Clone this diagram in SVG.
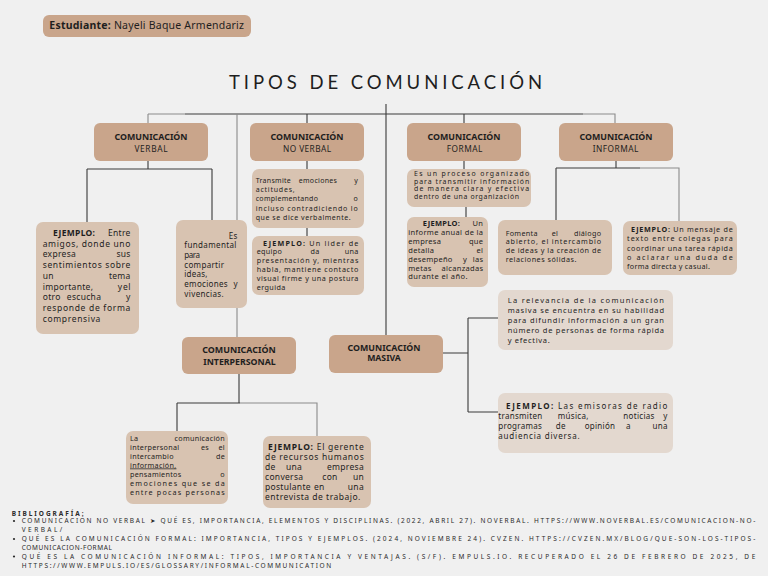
<svg xmlns="http://www.w3.org/2000/svg" width="768" height="576" viewBox="0 0 768 576">
<style>
.bg{fill:#f0f0f0}
.hdr{fill:#c9a58b}
.box{fill:#d8c3b1}
.box2{fill:#e3d8cf}
.t{font-family:'Noto Sans','DejaVu Sans',sans-serif;fill:#1e1e1e;letter-spacing:0.3px}
.b{font-weight:700}
.h{font-family:'Noto Sans','DejaVu Sans',sans-serif;fill:#1e1e1e;font-size:8.3px;text-anchor:middle}
.ln{stroke:#3a3a3a;stroke-width:1.1;fill:none}
.lg{stroke:#8a8a8a;stroke-width:1.1;fill:none}
.f85{font-size:8.5px}
.f8{font-size:8px}
.f75{font-size:7.5px}
.f72{font-size:7.2px}
.f7{font-size:7px}
.f69{font-size:6.9px}
.e{text-anchor:end}
.m{text-anchor:middle}
.bib{font-family:'Noto Sans','DejaVu Sans',sans-serif;fill:#2a2a2a;font-size:6.5px;letter-spacing:1.4px}
</style>
<rect class="bg" x="0" y="0" width="768" height="576"/>

<g id="connectors">
<path class="ln" d="M185,114 H583"/>
<path class="lg" d="M148,114 H185 M583,114 H615 V123"/>
<path class="ln" d="M386,104 V335"/>
<path class="lg" d="M148,114 V123"/>
<path class="ln" d="M307,114 V123 M464,114 V123"/>
<path class="lg" d="M237,114 V337"/>
<path class="ln" d="M148,161 V169 M87,169 H212 M87,169 V222 M212,169 V220"/>
<path class="ln" d="M307,161 V169 M307,228 V236"/>
<path class="ln" d="M464,161 V169 M466,207 V217"/>
<path class="ln" d="M616,161 V168 M556,168 H640 M556,168 V220"/>
<path class="lg" d="M640,168 H679 V222"/>
<path class="ln" d="M239,374 V403 M177,403 H240 M177,403 V431"/>
<path class="lg" d="M240,403 H317 V436"/>
<path class="ln" d="M443,353 H468 M468,318 V412 M468,318 H498 M468,412 H498"/>
</g>

<g id="student">
<rect class="hdr" x="43" y="15" width="208" height="22" rx="6"/>
<text class="t" x="49.3" y="28.5" font-size="10.5" textLength="195" lengthAdjust="spacing"><tspan class="b">Estudiante:</tspan> Nayeli Baque Armendariz</text>
</g>

<g id="title">
<text x="229" y="88.5" font-family="Lato,'Noto Sans',sans-serif" font-size="18.5" fill="#1e1e1e" textLength="313" lengthAdjust="spacing">TIPOS DE COMUNICACIÓN</text>
</g>

<g id="verbal">
<rect class="hdr" x="94" y="123" width="114" height="38" rx="6"/>
<text class="h b" x="151" y="140" textLength="73" lengthAdjust="spacingAndGlyphs">COMUNICACIÓN</text>
<text class="h" x="151" y="152" textLength="33" lengthAdjust="spacing">VERBAL</text>
</g>

<g id="no-verbal">
<rect class="hdr" x="250" y="123" width="114" height="38" rx="6"/>
<text class="h b" x="307" y="140" textLength="73" lengthAdjust="spacingAndGlyphs">COMUNICACIÓN</text>
<text class="h" x="307" y="152" textLength="48" lengthAdjust="spacing">NO VERBAL</text>
</g>

<g id="formal">
<rect class="hdr" x="407" y="123" width="114" height="38" rx="6"/>
<text class="h b" x="464" y="140" textLength="73" lengthAdjust="spacingAndGlyphs">COMUNICACIÓN</text>
<text class="h" x="464.5" y="152" textLength="35.6" lengthAdjust="spacing">FORMAL</text>
</g>

<g id="informal">
<rect class="hdr" x="559" y="123" width="114" height="38" rx="6"/>
<text class="h b" x="616" y="140" textLength="73" lengthAdjust="spacingAndGlyphs">COMUNICACIÓN</text>
<text class="h" x="615.5" y="152" textLength="45.6" lengthAdjust="spacing">INFORMAL</text>
</g>

<g id="verbal-ejemplo">
<rect class="box" x="36" y="222" width="103" height="112" rx="7"/>
<g class="t f85">
<text x="53" y="236"><tspan class="b">EJEMPLO:</tspan></text><text class="e" x="130.7" y="236">Entre</text>
<text x="42.7" y="246.7" textLength="88" lengthAdjust="spacing">amigos, donde uno</text>
<text x="42.7" y="257.4">expresa</text><text class="e" x="130.7" y="257.4">sus</text>
<text x="42.7" y="268.1" textLength="88" lengthAdjust="spacing">sentimientos sobre</text>
<text x="42.7" y="278.8">un</text><text class="e" x="130.7" y="278.8">tema</text>
<text x="42.7" y="289.5">importante,</text><text class="m" x="120" y="289.5">y</text><text class="e" x="130.7" y="289.5">el</text>
<text x="42.7" y="300.2">otro</text><text class="m" x="84" y="300.2">escucha</text><text class="e" x="130.7" y="300.2">y</text>
<text x="42.7" y="310.9" textLength="88" lengthAdjust="spacing">responde de forma</text>
<text x="42.7" y="321.6" textLength="58" lengthAdjust="spacing">comprensiva</text>
</g>
</g>

<g id="verbal-desc">
<rect class="box" x="176" y="220" width="71" height="88" rx="7"/>
<g class="t f8">
<text class="e" x="237.7" y="238.5">Es</text>
<text x="184.3" y="248.2" textLength="52.4" lengthAdjust="spacing">fundamental</text>
<text x="184.3" y="257.8" textLength="16" lengthAdjust="spacing">para</text>
<text x="184.3" y="267.5" textLength="40" lengthAdjust="spacing">compartir</text>
<text x="184.3" y="277.2" textLength="23.4" lengthAdjust="spacing">ideas,</text>
<text x="184.3" y="286.8">emociones</text><text class="e" x="238" y="286.8">y</text>
<text x="184.3" y="296.5" textLength="39.7" lengthAdjust="spacing">vivencias.</text>
</g>
</g>

<g id="no-verbal-desc">
<rect class="box" x="252" y="169" width="112" height="59" rx="7"/>
<g class="t f7">
<text x="255.7" y="183">Transmite</text><text class="m" x="318" y="183">emociones</text><text class="e" x="358" y="183">y</text>
<text x="255.7" y="192.2" textLength="39.3" lengthAdjust="spacing">actitudes,</text>
<text x="255.7" y="201.4">complementando</text><text class="e" x="358" y="201.4">o</text>
<text x="255.7" y="210.6" textLength="102.3" lengthAdjust="spacing">incluso contradiciendo lo</text>
<text x="255.7" y="219.8" textLength="95.3" lengthAdjust="spacing">que se dice verbalmente.</text>
</g>
</g>

<g id="no-verbal-ejemplo">
<rect class="box" x="252" y="236" width="112" height="59" rx="7"/>
<g class="t f72">
<text x="263" y="245.5" textLength="95.7" lengthAdjust="spacing"><tspan class="b">EJEMPLO:</tspan> Un lider de</text>
<text x="256.7" y="254.4">equipo</text><text class="m" x="315" y="254.4">da</text><text class="e" x="358.7" y="254.4">una</text>
<text x="256.7" y="263.3" textLength="102" lengthAdjust="spacing">presentación y, mientras</text>
<text x="256.7" y="272.2" textLength="102" lengthAdjust="spacing">habla, mantiene contacto</text>
<text x="256.7" y="281.1" textLength="102" lengthAdjust="spacing">visual firme y una postura</text>
<text x="256.7" y="290" textLength="29" lengthAdjust="spacing">erguida</text>
</g>
</g>

<g id="formal-desc">
<rect class="box" x="407" y="169" width="124" height="38" rx="7"/>
<g class="t f69">
<text x="414" y="175.8" textLength="115.5" lengthAdjust="spacing">Es un proceso organizado</text>
<text x="414" y="183.6" textLength="115.5" lengthAdjust="spacing">para transmitir información</text>
<text x="414" y="191.4" textLength="115.5" lengthAdjust="spacing">de manera clara y efectiva</text>
<text x="414" y="199.2" textLength="105.3" lengthAdjust="spacing">dentro de una organización</text>
</g>
</g>

<g id="formal-ejemplo">
<rect class="box" x="407" y="217" width="81" height="70" rx="7"/>
<g class="t f75">
<text class="b" x="422.7" y="226">EJEMPLO:</text><text class="e" x="483.3" y="226">Un</text>
<text x="408.3" y="234.9" textLength="75" lengthAdjust="spacing">informe anual de la</text>
<text x="408.3" y="243.8">empresa</text><text class="e" x="483.3" y="243.8">que</text>
<text x="408.3" y="252.7">detalla</text><text class="e" x="483.3" y="252.7">el</text>
<text x="408.3" y="261.6">desempeño</text><text class="m" x="465" y="261.6">y</text><text class="e" x="483.3" y="261.6">las</text>
<text x="408.3" y="270.5">metas</text><text class="e" x="483.3" y="270.5">alcanzadas</text>
<text x="408.3" y="279.4" textLength="59.4" lengthAdjust="spacing">durante el año.</text>
</g>
</g>

<g id="informal-desc">
<rect class="box" x="498" y="220" width="114" height="55" rx="7"/>
<g class="t f72">
<text x="505.7" y="235.5">Fomenta</text><text class="m" x="555" y="235.5">el</text><text class="e" x="601.3" y="235.5">diálogo</text>
<text x="505.7" y="244.4" textLength="95.6" lengthAdjust="spacing">abierto, el intercambio</text>
<text x="505.7" y="253.3" textLength="95.6" lengthAdjust="spacing">de ideas y la creación de</text>
<text x="505.7" y="262.2" textLength="71" lengthAdjust="spacing">relaciones sólidas.</text>
</g>
</g>

<g id="informal-ejemplo">
<rect class="box" x="623" y="221" width="114" height="54" rx="7"/>
<g class="t f72">
<text x="631" y="232" textLength="102" lengthAdjust="spacing"><tspan class="b">EJEMPLO:</tspan> Un mensaje de</text>
<text x="627" y="241.3" textLength="106" lengthAdjust="spacing">texto entre colegas para</text>
<text x="627" y="250.6" textLength="106" lengthAdjust="spacing">coordinar una tarea rápida</text>
<text x="627" y="259.9" textLength="106" lengthAdjust="spacing">o aclarar una duda de</text>
<text x="627" y="269.2">forma directa y casual.</text>
</g>
</g>

<g id="interpersonal">
<rect class="hdr" x="182" y="337" width="114" height="37" rx="6"/>
<text class="h b" x="239" y="353.3" textLength="73.5" lengthAdjust="spacingAndGlyphs">COMUNICACIÓN</text>
<text class="h b" x="239.5" y="364.7" textLength="72.5" lengthAdjust="spacingAndGlyphs">INTERPERSONAL</text>
</g>

<g id="masiva">
<rect class="hdr" x="329" y="335" width="114" height="38" rx="6"/>
<text class="h b" x="384" y="350.7" textLength="73" lengthAdjust="spacingAndGlyphs">COMUNICACIÓN</text>
<text class="h b" x="384" y="361.3" textLength="33.7" lengthAdjust="spacingAndGlyphs">MASIVA</text>
</g>

<g id="interpersonal-desc">
<rect class="box" x="126" y="431" width="102" height="73" rx="7"/>
<g class="t f72">
<text x="130" y="440.5">La</text><text class="e" x="225" y="440.5">comunicación</text>
<text x="130" y="449.5">interpersonal</text><text class="m" x="205" y="449.5">es</text><text class="e" x="225" y="449.5">el</text>
<text x="130" y="458.5">intercambio</text><text class="e" x="225" y="458.5">de</text>
<text x="130" y="467.5" text-decoration="underline">información,</text>
<text x="130" y="476.5">pensamientos</text><text class="e" x="225" y="476.5">o</text>
<text x="130" y="485.5" textLength="95" lengthAdjust="spacing">emociones que se da</text>
<text x="130" y="494.5" textLength="95" lengthAdjust="spacing">entre pocas personas</text>
</g>
</g>

<g id="interpersonal-ejemplo">
<rect class="box" x="263" y="436" width="108" height="72" rx="7"/>
<g class="t f85">
<text x="268" y="449.6" textLength="96" lengthAdjust="spacing"><tspan class="b">EJEMPLO:</tspan> El gerente</text>
<text x="265" y="459.6" textLength="99" lengthAdjust="spacing">de recursos humanos</text>
<text x="265" y="469.6">de</text><text class="m" x="294" y="469.6">una</text><text class="e" x="364" y="469.6">empresa</text>
<text x="265" y="479.6">conversa</text><text class="m" x="330" y="479.6">con</text><text class="e" x="364" y="479.6">un</text>
<text x="265" y="489.6">postulante</text><text class="m" x="319.3" y="489.6">en</text><text class="e" x="364" y="489.6">una</text>
<text x="265" y="499.6" textLength="95.7" lengthAdjust="spacing">entrevista de trabajo.</text>
</g>
</g>

<g id="masiva-desc">
<rect class="box2" x="498" y="290" width="175" height="60" rx="7"/>
<g class="t f75">
<text x="507.7" y="303" textLength="156.6" lengthAdjust="spacing">La relevancia de la comunicación</text>
<text x="507.7" y="313" textLength="156.6" lengthAdjust="spacing">masiva se encuentra en su habilidad</text>
<text x="507.7" y="323" textLength="156.6" lengthAdjust="spacing">para difundir información a un gran</text>
<text x="507.7" y="333" textLength="156.6" lengthAdjust="spacing">número de personas de forma rápida</text>
<text x="507.7" y="343" textLength="42.3" lengthAdjust="spacing">y efectiva.</text>
</g>
</g>

<g id="masiva-ejemplo">
<rect class="box2" x="498" y="393" width="175" height="60" rx="7"/>
<g class="t f8">
<text x="506" y="408.5" textLength="161.7" lengthAdjust="spacing"><tspan class="b">EJEMPLO:</tspan> Las emisoras de radio</text>
<text x="498.3" y="418.5">transmiten</text><text class="m" x="573.3" y="418.5">música,</text><text class="m" x="639" y="418.5">noticias</text><text class="e" x="667.7" y="418.5">y</text>
<text x="498.3" y="428.5">programas</text><text class="m" x="560.7" y="428.5">de</text><text class="m" x="600" y="428.5">opinión</text><text class="m" x="628.3" y="428.5">a</text><text class="e" x="667.7" y="428.5">una</text>
<text x="498.3" y="438.5" textLength="81.7" lengthAdjust="spacing">audiencia diversa.</text>
</g>
</g>

<g id="bibliografia">
<text class="bib b" x="11.7" y="515.5" font-size="7" textLength="73.3" lengthAdjust="spacing">BIBLIOGRAFÍA:</text>
<circle cx="14" cy="521" r="1.1" fill="#2a2a2a"/>
<circle cx="14" cy="539" r="1.1" fill="#2a2a2a"/>
<circle cx="14" cy="556.5" r="1.1" fill="#2a2a2a"/>
<text class="bib" x="21.7" y="523" textLength="735" lengthAdjust="spacing">COMUNICACIÓN NO VERBAL ➤ QUÉ ES, IMPORTANCIA, ELEMENTOS Y DISCIPLINAS. (2022, ABRIL 27). NOVERBAL. HTTPS://WWW.NOVERBAL.ES/COMUNICACION-NO-</text>
<text class="bib" x="21.7" y="531.5" textLength="42" lengthAdjust="spacing">VERBAL/</text>
<text class="bib" x="21.7" y="541" textLength="735" lengthAdjust="spacing">QUÉ ES LA COMUNICACIÓN FORMAL: IMPORTANCIA, TIPOS Y EJEMPLOS. (2024, NOVIEMBRE 24). CVZEN. HTTPS://CVZEN.MX/BLOG/QUE-SON-LOS-TIPOS-</text>
<text class="bib" x="21.7" y="549.5" textLength="91.6" lengthAdjust="spacing">COMUNICACION-FORMAL</text>
<text class="bib" x="21.7" y="559" textLength="735" lengthAdjust="spacing">QUÉ ES LA COMUNICACIÓN INFORMAL: TIPOS, IMPORTANCIA Y VENTAJAS. (S/F). EMPULS.IO. RECUPERADO EL 26 DE FEBRERO DE 2025, DE</text>
<text class="bib" x="21.7" y="567.5" textLength="311" lengthAdjust="spacing">HTTPS://WWW.EMPULS.IO/ES/GLOSSARY/INFORMAL-COMMUNICATION</text>
</g>
</svg>
